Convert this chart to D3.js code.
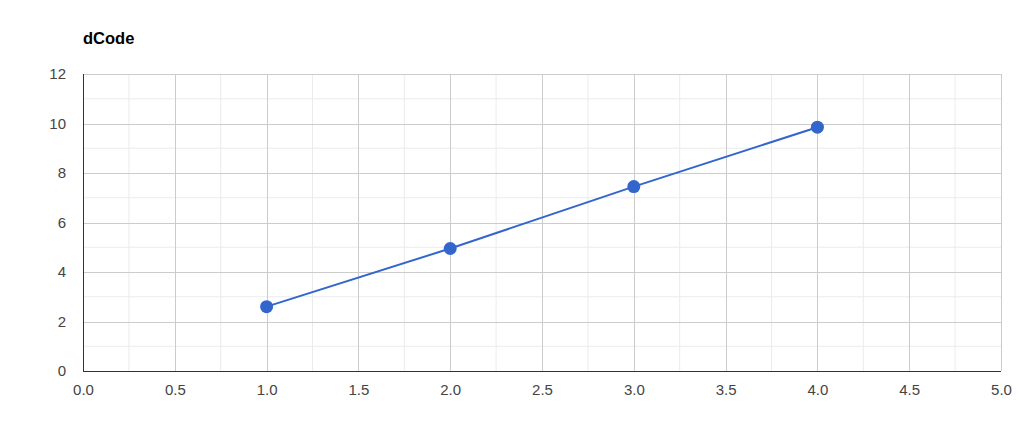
<!DOCTYPE html>
<html>
<head>
<meta charset="utf-8">
<script src="https://cdn.jsdelivr.net/npm/d3@7"></script>
<style>
  body { margin: 0; background: #fff; }
  text { font-family: "Liberation Sans", Arial, sans-serif; }
</style>
</head>
<body>
<div id="chart"></div>
<script>
const xValues = [1, 2, 3, 4];
const yValues = [2.6, 4.95, 7.45, 9.85];
const xTicks = [0, 0.5, 1, 1.5, 2, 2.5, 3, 3.5, 4, 4.5, 5];
const yTicks = [0, 2, 4, 6, 8, 10, 12];
const title = 'dCode';

const width = 1020, height = 428;
const margin = { top: 74, right: 19, bottom: 57, left: 83 };

const svg = d3.select('#chart')
  .append('svg')
  .attr('width', width)
  .attr('height', height);

const x = d3.scaleLinear().domain([0, 5]).range([margin.left, width - margin.right]);
const y = d3.scaleLinear().domain([0, 12]).range([height - margin.bottom, margin.top]);

// minor gridlines
const xMinor = d3.range(0.25, 5, 0.5);
const yMinor = d3.range(1, 12, 2);

svg.append('g')
  .selectAll('line')
  .data(xMinor)
  .join('line')
  .attr('x1', d => x(d)).attr('x2', d => x(d))
  .attr('y1', y(0)).attr('y2', y(12))
  .attr('stroke', '#ebebeb');

svg.append('g')
  .selectAll('line')
  .data(yMinor)
  .join('line')
  .attr('x1', x(0)).attr('x2', x(5))
  .attr('y1', d => y(d)).attr('y2', d => y(d))
  .attr('stroke', '#ebebeb');

// major gridlines
svg.append('g')
  .selectAll('line')
  .data(xTicks.slice(1))
  .join('line')
  .attr('x1', d => Math.round(x(d)) + 0.5).attr('x2', d => Math.round(x(d)) + 0.5)
  .attr('y1', y(0)).attr('y2', y(12))
  .attr('stroke', '#cccccc');

svg.append('g')
  .selectAll('line')
  .data(yTicks.slice(1))
  .join('line')
  .attr('x1', x(0)).attr('x2', x(5))
  .attr('y1', d => Math.round(y(d)) + 0.5).attr('y2', d => Math.round(y(d)) + 0.5)
  .attr('stroke', '#cccccc');

// axis baselines
svg.append('line')
  .attr('x1', x(0) + 0.5).attr('x2', x(0) + 0.5)
  .attr('y1', y(0)).attr('y2', y(12))
  .attr('stroke', '#333')
  .attr('stroke-width', 1);

svg.append('line')
  .attr('x1', x(0)).attr('x2', x(5))
  .attr('y1', y(0) + 0.5).attr('y2', y(0) + 0.5)
  .attr('stroke', '#333')
  .attr('stroke-width', 1);

// tick labels
const xAxis = svg.append('g')
  .attr('transform', `translate(0,${y(0)})`)
  .call(d3.axisBottom(x).tickValues(xTicks).tickFormat(d3.format('.1f')).tickSize(0).tickPadding(13));

const yAxis = svg.append('g')
  .attr('transform', `translate(${x(0)},0)`)
  .call(d3.axisLeft(y).tickValues(yTicks).tickSize(0).tickPadding(17));

[xAxis, yAxis].forEach(g => {
  g.select('.domain').remove();
  g.selectAll('text')
    .attr('fill', '#444')
    .style('font-size', '15px')
    .style('font-family', '"Liberation Sans", Arial, sans-serif');
});

// series
const points = xValues.map((v, i) => ({ x: v, y: yValues[i] }));

svg.append('path')
  .datum(points)
  .attr('fill', 'none')
  .attr('stroke', '#3366cc')
  .attr('stroke-width', 2)
  .attr('d', d3.line().x(d => x(d.x)).y(d => y(d.y)));

svg.append('g')
  .selectAll('circle')
  .data(points)
  .join('circle')
  .attr('cx', d => x(d.x))
  .attr('cy', d => y(d.y))
  .attr('r', 6.5)
  .attr('fill', '#3366cc');

// title
svg.append('text')
  .attr('x', x(0))
  .attr('y', 44)
  .attr('fill', '#000')
  .style('font-size', '16.5px')
  .style('font-weight', 'bold')
  .text(title);
</script>
</body>
</html>
